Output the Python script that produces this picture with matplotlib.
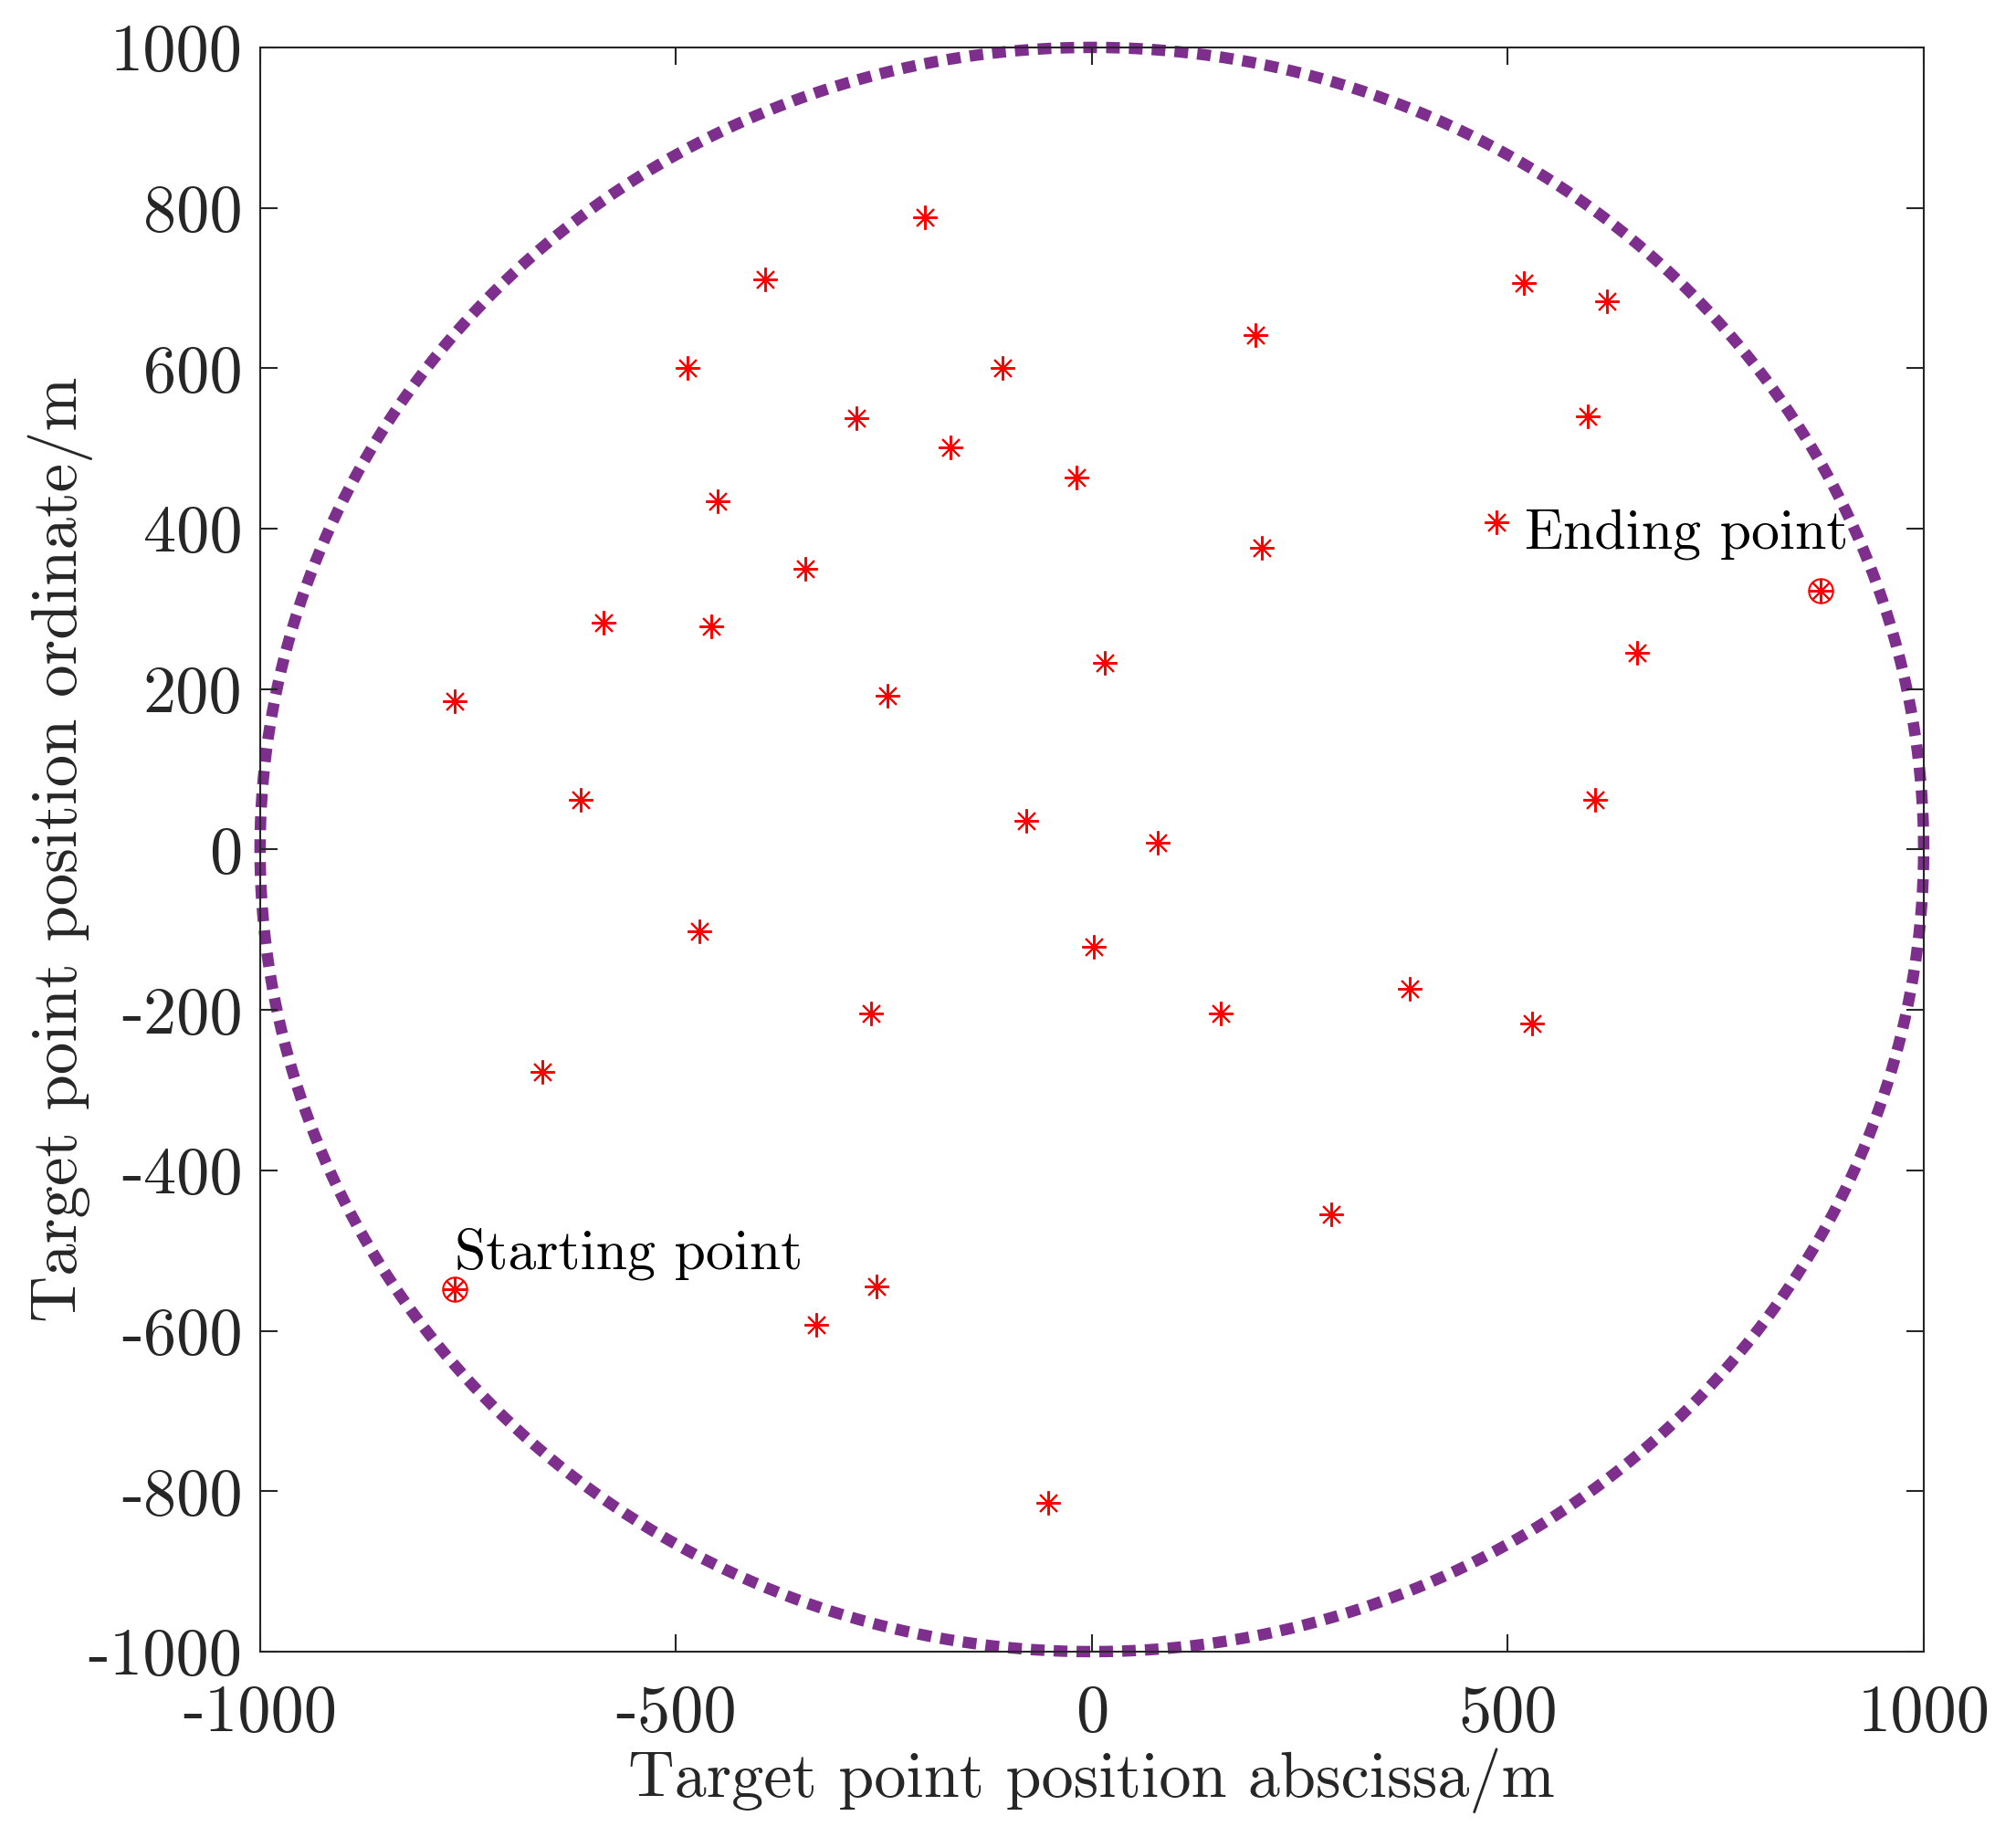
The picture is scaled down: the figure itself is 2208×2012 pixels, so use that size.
import numpy as np
import matplotlib
matplotlib.use("Agg")
import matplotlib.pyplot as plt

plt.rcParams['font.family'] = 'serif'
plt.rcParams['font.serif'] = ['cmr10']
plt.rcParams['mathtext.fontset'] = 'cm'
plt.rcParams['axes.unicode_minus'] = False

# target points (m)
xs = [-201, -393, -486, -283, -107, -170, -19, 197, 519, 619, 596, 486, 204,
      -450, -344, -587, -458, -766, -246, 15, 655, -615, -79, 79, 605,
      -472, 2, 382, -266, 155, 529, -661, 288, -259, -331, -53]
ys = [788, 711, 600, 538, 600, 501, 464, 641, 706, 684, 540, 408, 376,
      434, 350, 283, 278, 185, 192, 233, 245, 62, 36, 9, 62,
      -102, -121, -174, -204, -204, -217, -277, -455, -545, -593, -814]

start_pt = (-766, -548)
end_pt = (876, 323)
radius = 1000

theta = np.linspace(0, 2 * np.pi, 721)
cx = radius * np.cos(theta)
cy = radius * np.sin(theta)

fig = plt.figure(figsize=(22.08, 20.12), dpi=100)
ax = fig.add_axes([0.129, 0.1009, 0.8252, 0.8733])

ax.plot(cx, cy, color='#7E2F8E', lw=9, linestyle=(0, (1.2, 0.8)),
        dash_capstyle='butt', clip_on=False, zorder=1)

star = (8, 2, 0)
ax.plot(xs, ys, linestyle='none', marker=star, ms=19, mew=1.5, color='r', zorder=3)
for p in (start_pt, end_pt):
    ax.plot(p[0], p[1], linestyle='none', marker=star, ms=19, mew=1.5, color='r', zorder=3)
    ax.plot(p[0], p[1], linestyle='none', marker='o', ms=19, mew=1.5,
            mfc='none', mec='r', zorder=3)

ax.text(start_pt[0], -522, 'Starting point', fontsize=44.5, ha='left', va='baseline')
ax.text(520, 376, 'Ending point', fontsize=44.5, ha='left', va='baseline')

ax.set_xlim(-1000, 1000)
ax.set_ylim(-1000, 1000)
ax.set_xticks([-1000, -500, 0, 500, 1000])
ax.set_yticks(np.arange(-1000, 1001, 200))

for s in ax.spines.values():
    s.set_color('#262626')
    s.set_linewidth(1.5)
ax.tick_params(direction='in', length=13.5, width=1.5, colors='#262626',
               labelsize=52, top=True, right=True)
ax.tick_params(axis='x', pad=26)
ax.tick_params(axis='y', pad=14)

ax.set_xlabel('Target point position abscissa/m', fontsize=50.5, color='#262626', labelpad=3)
ax.set_ylabel('Target point position ordinate/m', fontsize=51, color='#262626', labelpad=-4)

fig.savefig('out.png', dpi=100, facecolor='white')
